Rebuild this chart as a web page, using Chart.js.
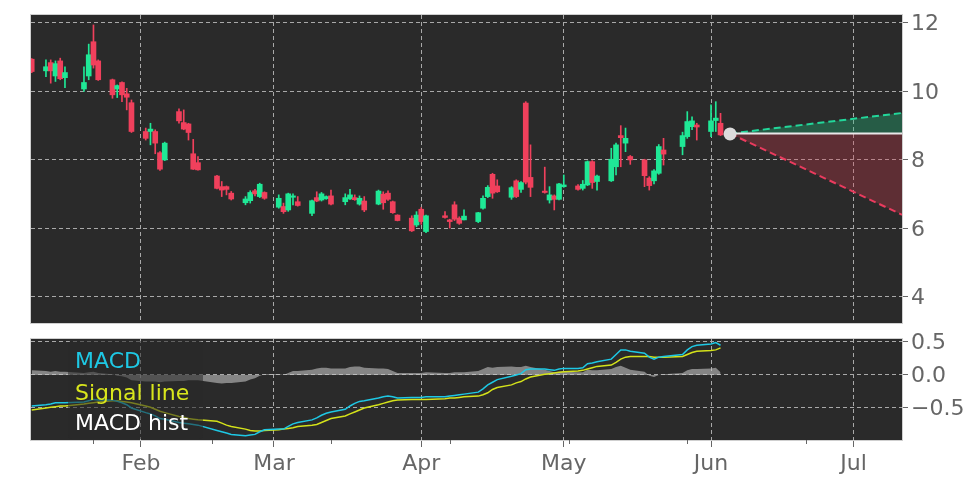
<!DOCTYPE html>
<html><head><meta charset="utf-8">
<script src="https://cdn.jsdelivr.net/npm/chart.js@4.4.1/dist/chart.umd.min.js"></script>
<style>
html,body{margin:0;padding:0;background:#fff;}
#wrap{position:relative;width:972px;height:486px;overflow:hidden;}
#c1{position:absolute;left:0;top:0;}
#c2{position:absolute;left:0;top:331px;}
</style></head><body>
<div id="wrap"><canvas id="c1" width="972" height="331"></canvas><canvas id="c2" width="972" height="155"></canvas></div>
<script>
// ---------- DATA ----------
const YEAR = 2015;
const dates = ['01-09','01-12','01-13','01-14','01-15','01-16','01-20','01-21','01-22','01-23','01-26','01-27','01-28','01-29','01-30',
'02-02','02-03','02-04','02-05','02-06','02-09','02-10','02-11','02-12','02-13','02-17','02-18','02-19','02-20','02-23','02-24','02-25','02-26','02-27',
'03-02','03-03','03-04','03-05','03-06','03-09','03-10','03-11','03-12','03-13','03-16','03-17','03-18','03-19','03-20','03-23','03-24','03-25','03-26','03-27','03-30','03-31',
'04-01','04-02','04-06','04-07','04-08','04-09','04-10','04-13','04-14','04-15','04-16','04-17','04-20','04-21','04-22','04-23','04-24','04-27','04-28','04-29','04-30',
'05-01','05-04','05-05','05-06','05-07','05-08','05-11','05-12','05-13','05-14','05-15','05-18','05-19','05-20','05-21','05-22','05-26','05-27','05-28','05-29',
'06-01','06-02','06-03'];

const open = [10.94,10.60,10.84,10.45,10.89,10.40,10.07,10.45,11.45,10.89,10.34,10.07,10.26,9.93,9.67,
8.83,8.83,8.83,8.21,8.00,9.41,9.09,9.05,8.18,7.92,7.53,7.22,7.22,7.03,6.75,6.81,7.10,6.93,7.05,
6.62,6.64,6.54,6.91,6.78,6.44,6.90,6.83,6.87,6.95,6.78,6.86,6.90,6.71,6.80,6.71,7.00,7.03,6.78,6.39,6.30,6.10,
6.56,5.91,6.37,6.25,6.69,6.30,6.25,6.20,6.59,6.93,7.58,7.24,6.91,7.39,7.14,9.66,7.49,7.09,6.83,6.95,6.85,
7.22,7.24,7.17,7.27,7.95,7.37,7.39,7.80,8.71,8.49,8.10,8.00,7.47,7.39,7.61,8.29,8.39,8.68,8.97,9.02,
8.83,9.15,9.07];
const high = [10.96,10.92,10.92,10.89,10.97,10.72,10.72,11.38,11.94,10.92,10.36,10.19,10.28,10.09,9.75,
8.93,9.07,8.88,8.24,8.52,9.49,9.46,9.07,8.60,8.10,7.55,7.37,7.24,7.08,6.93,7.10,7.14,7.32,7.07,
6.98,6.74,7.03,7.01,6.93,6.83,7.07,7.05,6.95,7.12,7.01,7.14,6.98,6.95,6.93,7.12,7.07,7.10,6.80,6.40,6.37,6.49,
6.61,6.39,6.49,6.27,6.78,6.34,6.54,6.47,6.95,7.25,7.61,7.42,7.22,7.42,7.37,9.70,8.44,7.79,7.22,6.98,7.32,
7.56,7.28,7.40,7.97,7.98,7.56,8.34,8.49,9.00,8.93,8.13,8.02,7.51,7.72,8.45,8.63,8.81,9.41,9.26,9.07,
9.61,9.70,9.36];
const low = [10.55,10.43,10.24,10.29,10.34,10.11,10.00,10.34,10.68,10.32,9.80,9.82,9.70,9.46,8.80,
8.58,8.44,8.18,7.69,7.98,9.07,8.88,8.58,7.72,7.70,7.15,6.93,6.98,6.83,6.69,6.74,6.95,6.90,6.85,
6.59,6.44,6.50,6.69,6.65,6.37,6.78,6.80,6.85,6.69,6.69,6.85,6.82,6.68,6.49,6.69,6.56,6.82,6.44,6.22,5.91,6.05,
6.12,5.88,6.30,6.01,6.23,6.12,6.25,6.17,6.56,6.90,6.88,7.05,6.85,6.90,7.05,7.30,6.93,7.03,6.74,6.54,6.83,
7.20,7.12,7.12,7.25,7.17,7.12,7.37,7.56,7.80,8.24,7.87,7.22,7.12,7.30,7.58,7.85,8.15,8.63,8.88,8.58,
8.68,8.83,8.71];
const close = [10.58,10.72,10.60,10.81,10.37,10.55,10.26,11.07,10.77,10.34,9.90,10.17,9.90,9.83,8.83,
8.63,8.90,8.49,7.73,8.49,9.14,8.90,8.80,7.73,7.71,7.17,7.12,7.14,6.86,6.86,7.05,7.01,7.29,6.88,
6.88,6.49,7.01,6.95,6.67,6.81,6.80,7.01,6.93,6.71,6.90,6.98,6.84,6.88,6.54,7.09,6.75,6.85,6.46,6.23,5.93,6.39,
6.20,6.37,6.32,6.20,6.27,6.15,6.36,6.46,6.88,7.20,7.03,7.07,7.19,6.93,7.34,7.35,7.20,7.05,6.98,6.85,7.30,
7.27,7.14,7.29,7.95,7.34,7.53,8.02,8.44,8.65,8.63,8.00,7.54,7.25,7.68,8.39,8.17,8.71,9.12,9.14,8.96,
9.14,9.22,8.73];

const macd = [-0.47,-0.45,-0.44,-0.42,-0.42,-0.42,-0.41,-0.39,-0.37,-0.38,-0.38,-0.40,-0.42,-0.45,-0.50,
-0.57,-0.59,-0.62,-0.66,-0.67,-0.72,-0.73,-0.74,-0.75,-0.76,-0.84,-0.86,-0.88,-0.90,-0.92,-0.91,-0.90,-0.86,-0.83,
-0.82,-0.82,-0.78,-0.74,-0.72,-0.68,-0.65,-0.61,-0.58,-0.56,-0.52,-0.47,-0.43,-0.40,-0.39,-0.35,-0.33,-0.32,-0.33,-0.35,-0.34,-0.34,
-0.34,-0.33,-0.33,-0.32,-0.31,-0.30,-0.29,-0.26,-0.21,-0.15,-0.11,-0.07,-0.02,0.00,0.02,0.08,0.09,0.09,0.08,0.07,0.09,
0.10,0.10,0.11,0.17,0.18,0.20,0.24,0.31,0.38,0.38,0.36,0.33,0.27,0.24,0.27,0.28,0.31,0.38,0.43,0.45,
0.47,0.49,0.45];
const signal = [-0.53,-0.50,-0.49,-0.48,-0.47,-0.47,-0.44,-0.43,-0.42,-0.41,-0.39,-0.39,-0.40,-0.41,-0.42,
-0.47,-0.49,-0.52,-0.55,-0.57,-0.63,-0.64,-0.66,-0.67,-0.68,-0.70,-0.73,-0.76,-0.78,-0.82,-0.84,-0.85,-0.85,-0.84,
-0.83,-0.82,-0.81,-0.80,-0.78,-0.76,-0.75,-0.72,-0.69,-0.66,-0.62,-0.59,-0.56,-0.53,-0.50,-0.45,-0.43,-0.41,-0.39,-0.38,-0.37,-0.37,
-0.37,-0.37,-0.36,-0.35,-0.35,-0.34,-0.33,-0.32,-0.30,-0.27,-0.22,-0.19,-0.15,-0.12,-0.10,-0.06,-0.03,0.01,0.02,0.03,0.04,
0.05,0.06,0.07,0.09,0.11,0.13,0.15,0.19,0.24,0.27,0.28,0.28,0.28,0.27,0.27,0.27,0.28,0.31,0.34,0.36,
0.37,0.38,0.41];
const hist = [0.07,0.06,0.05,0.06,0.05,0.05,0.03,0.04,0.05,0.03,0.01,-0.01,-0.02,-0.04,-0.08,
-0.10,-0.10,-0.10,-0.11,-0.10,-0.09,-0.09,-0.08,-0.08,-0.08,-0.12,-0.13,-0.12,-0.12,-0.10,-0.07,-0.05,-0.01,0.01,
0.01,0.00,0.03,0.06,0.06,0.08,0.10,0.11,0.11,0.10,0.10,0.12,0.13,0.13,0.11,0.10,0.10,0.09,0.06,0.03,0.03,0.03,
0.03,0.04,0.03,0.03,0.04,0.04,0.04,0.06,0.09,0.12,0.11,0.12,0.13,0.12,0.12,0.14,0.12,0.08,0.06,0.04,0.05,
0.05,0.04,0.04,0.08,0.07,0.07,0.09,0.12,0.14,0.11,0.08,0.05,-0.01,-0.03,0.00,0.01,0.03,0.07,0.09,0.09,
0.10,0.11,0.04];

// projection (forecast cone)
const projDates = ['06-05','07-11.2'];
const projBase = [8.77, 8.77];
const projUp = [8.77, 9.37];
const projDown = [8.77, 6.40];
const lastPoint = {date:'06-05', value:8.76};

// axes
const xRange = ['01-08.85','07-11.2'];
const monthTickDates = ['02-01','03-01','04-01','05-01','06-01','07-01'];
const monthLabels = ['Feb','Mar','Apr','May','Jun','Jul'];
const minorTickDates = ['01-22','02-16','03-13','04-07','05-02','05-27','06-21'];
const priceTicks = [4,6,8,10,12];
const priceRange = [3.24, 12.23];
const macdTicks = [-0.5, 0, 0.5];
const macdTickLabels = ['\u22120.5','0.0','0.5'];
const macdRange = [-0.985, 0.545];
const legendLabels = ['MACD','Signal line','MACD hist'];

// ---------- helpers ----------
function dayNum(s){ // days since Jan 1 (fractional allowed)
  const [m, d] = s.split('-');
  const dd = parseFloat(d);
  const base = Date.UTC(YEAR, parseInt(m,10)-1, Math.floor(dd));
  return (base - Date.UTC(YEAR,0,1))/864e5 + (dd - Math.floor(dd));
}
const X = dates.map(dayNum);
const UP = '#1fe896', DOWN = '#f0405c';
const cols = close.map((c,i)=> c >= open[i] ? UP : DOWN);
const FONT = 'DejaVu Sans';
const GRID = '#a9a9a9';
const TICKC = '#666666';
const BG = '#2a2a2a';
Chart.defaults.font.family = FONT;
Chart.defaults.font.size = 22;
Chart.defaults.color = TICKC;

const bgPlugin = {
  id:'bg',
  beforeDraw(chart){
    const {ctx, chartArea:a} = chart;
    ctx.save(); ctx.fillStyle='#ffffff'; ctx.fillRect(0,0,chart.width,chart.height);
    ctx.fillStyle = BG; ctx.fillRect(a.left, a.top, a.right-a.left, a.bottom-a.top); ctx.restore();
  },
  afterDraw(chart){
    const {ctx, chartArea:a} = chart;
    ctx.save(); ctx.strokeStyle='#cfcfcf'; ctx.lineWidth=1;
    ctx.strokeRect(a.left-0.5, a.top-0.5, a.right-a.left+1, a.bottom-a.top+1); ctx.restore();
  }
};

const xMin = dayNum(xRange[0]), xMax = dayNum(xRange[1]);
function xScale(showLabels){
  return {
    type:'linear', min:xMin, max:xMax, offset:false,
    afterBuildTicks(s){ s.ticks = monthTickDates.map(d=>({value:dayNum(d)})); },
    afterFit(s){ s.height = showLabels ? 46 : 0; s.paddingLeft = 0; s.paddingRight = 0; },
    ticks:{ display:showLabels, autoSkip:false, maxRotation:0, padding:4, color:TICKC,
      callback:(v,i)=>monthLabels[i] },
    grid:{ offset:false, color:GRID, lineWidth:1, drawTicks:showLabels, tickLength:7, tickColor:TICKC, tickWidth:1 },
    border:{ display:false, dash:[4,3] }
  };
}
function yScale(ticks, range, labels){
  return {
    type:'linear', position:'right', min:range[0], max:range[1],
    afterBuildTicks(s){ s.ticks = ticks.map(v=>({value:v})); },
    afterFit(s){ s.width = 70; s.paddingTop = 0; s.paddingBottom = 0; },
    ticks:{ padding:3, labelOffset:1.5, color:TICKC, callback:(v,i)=> labels ? labels[i] : String(v) },
    grid:{ offset:false, color:GRID, lineWidth:1, drawTicks:true, tickLength:6, tickColor:TICKC },
    border:{ display:false, dash:[4,3] }
  };
}

// ---------- main price chart ----------
const pX = projDates.map(dayNum);
const pts = (xs, ys)=> xs.map((x,i)=>({x, y:ys[i]}));
new Chart(document.getElementById('c1'), {
  type:'bar',
  data:{ datasets:[
    { type:'line', data:pts(pX, projBase), borderColor:'#e8e8e8', borderWidth:2, pointRadius:0, order:3, fill:false },
    { type:'line', data:pts(pX, projUp), borderColor:'#22d79a', borderWidth:2, borderDash:[7,4], pointRadius:0, order:3,
      fill:{target:0, above:'rgba(30,200,130,0.32)', below:'rgba(30,200,130,0.32)'} },
    { type:'line', data:pts(pX, projDown), borderColor:'#ea3b5e', borderWidth:2, borderDash:[7,4], pointRadius:0, order:3,
      fill:{target:0, above:'rgba(215,55,75,0.30)', below:'rgba(215,55,75,0.30)'} },
    { type:'bar', data:X.map((x,i)=>({x, y:[low[i], high[i]]})), backgroundColor:cols, barThickness:1, grouped:false, order:6 },
    { type:'bar', data:X.map((x,i)=>({x, y:[open[i], close[i]]})), backgroundColor:cols, barThickness:5, grouped:false, minBarLength:1, order:5 },
    { type:'scatter', data:[{x:dayNum(lastPoint.date), y:lastPoint.value}], pointRadius:6.5, backgroundColor:'#dcdcdc', borderWidth:0, order:0 }
  ]},
  options:{
    responsive:false, animation:false, devicePixelRatio:1,
    layout:{ padding:{left:31, top:15, right:0, bottom:8} },
    plugins:{ legend:{display:false}, tooltip:{enabled:false} },
    scales:{ x:xScale(false), y:yScale(priceTicks, priceRange, null) }
  },
  plugins:[bgPlugin]
});

// ---------- MACD chart ----------
const legendPlugin = {
  id:'macdLegend',
  afterDatasetsDraw(chart){
    const ctx = chart.ctx;
    ctx.save();
    ctx.fillStyle = 'rgba(40,40,40,0.55)';
    ctx.beginPath();
    if (ctx.roundRect) ctx.roundRect(68, 10, 135, 98, 4); else ctx.rect(68,10,135,98);
    ctx.fill();
    ctx.font = '22px "' + FONT + '"';
    ctx.textBaseline = 'alphabetic';
    const colsL = ['#1ec8e4', '#d9e61c', '#ffffff'];
    const ys = [37, 68.5, 99];
    legendLabels.forEach((t,i)=>{ ctx.fillStyle = colsL[i]; ctx.fillText(t, 75, ys[i]); });
    ctx.restore();
  },
  afterDraw(chart){
    const ctx = chart.ctx, s = chart.scales.x, a = chart.chartArea;
    ctx.save(); ctx.strokeStyle = TICKC; ctx.lineWidth = 1;
    minorTickDates.forEach(d=>{
      const px = Math.round(s.getPixelForValue(dayNum(d))) + 0.5;
      ctx.beginPath(); ctx.moveTo(px, a.bottom); ctx.lineTo(px, a.bottom+4); ctx.stroke();
    });
    ctx.restore();
  }
};
new Chart(document.getElementById('c2'), {
  type:'line',
  data:{ datasets:[
    { data:pts(X, macd), borderColor:'#1ec8e4', borderWidth:1.5, pointRadius:0, order:1 },
    { data:pts(X, signal), borderColor:'#d4e21a', borderWidth:1.5, pointRadius:0, order:2 },
    { data:pts(X, hist), borderWidth:0, borderColor:'rgba(0,0,0,0)', backgroundColor:'rgba(200,200,200,0.58)', pointRadius:0, fill:'origin', order:3 }
  ]},
  options:{
    responsive:false, animation:false, devicePixelRatio:1,
    layout:{ padding:{left:31, top:8, right:0, bottom:0} },
    plugins:{ legend:{display:false}, tooltip:{enabled:false} },
    scales:{ x:xScale(true), y:yScale(macdTicks, macdRange, macdTickLabels) }
  },
  plugins:[bgPlugin, legendPlugin]
});
</script>
</body></html>
